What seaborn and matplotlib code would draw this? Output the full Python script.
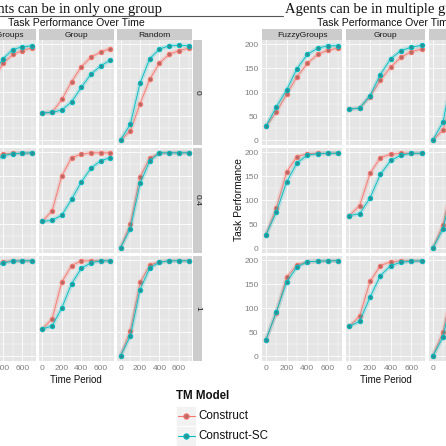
import matplotlib
matplotlib.use('Agg')
import pandas as pd
import matplotlib.pyplot as plt
import seaborn as sns
from matplotlib.patches import Rectangle

# ---- data ----
times = [0, 100, 200, 300, 400, 500, 600, 700]
structures = ['FuzzyGroups', 'Group', 'Random']
rates = ['0', '0.4', '1']
models = ['Construct', 'Construct-SC']
colors = ['#F8766D', '#00BFC4']
dark_colors = ['#B86A66', '#2F8F93']

# left chart: agents can be in only one group (rows: FuzzyGroups, Group, Random)
one_construct_r0 = [[28, 55, 90, 125, 160, 179, 187, 193],
                    [57, 58, 85, 122, 153, 173, 184, 191],
                    [0, 19, 76, 127, 161, 179, 187, 192]]
one_sc_r0 = [[28, 65, 100, 140, 170, 189, 195, 197],
             [57, 58, 63, 80, 110, 138, 155, 167],
             [1, 33, 119, 170, 190, 197, 198, 197]]
one_construct_r04 = [[28, 80, 150, 185, 196, 198, 198, 199],
                     [56, 78, 151, 189, 196, 199, 199, 199],
                     [1, 50, 149, 188, 198, 199, 199, 199]]
one_sc_r04 = [[28, 75, 140, 180, 193, 197, 198, 199],
              [56, 58, 69, 102, 138, 167, 182, 189],
              [1, 41, 135, 182, 199, 199, 199, 199]]
one_construct_r1 = [[30, 85, 155, 188, 197, 199, 199, 199],
                    [57, 78, 155, 189, 199, 199, 199, 199],
                    [1, 53, 154, 190, 197, 199, 199, 199]]
one_sc_r1 = [[30, 80, 150, 185, 195, 198, 199, 199],
             [57, 63, 101, 151, 183, 195, 199, 199],
             [1, 42, 139, 184, 196, 199, 199, 199]]

# right chart: agents can be in multiple groups
multi_construct_r0 = [[29, 58, 96, 132, 160, 179, 188, 192],
                      [65, 67, 91, 125, 153, 173, 185, 190],
                      [0, 21, 95, 150, 180, 192, 196, 198]]
multi_sc_r0 = [[29, 69, 105, 149, 179, 192, 197, 197],
               [65, 67, 93, 137, 170, 187, 194, 198],
               [0, 38, 150, 185, 196, 198, 199, 199]]
multi_construct_r04 = [[28, 84, 159, 191, 197, 198, 198, 199],
                       [68, 89, 156, 189, 196, 198, 198, 198],
                       [0, 49, 150, 190, 198, 199, 199, 199]]
multi_sc_r04 = [[28, 75, 138, 178, 194, 197, 198, 198],
                [68, 72, 105, 154, 183, 194, 198, 198],
                [0, 40, 135, 185, 198, 199, 199, 199]]
multi_construct_r1 = [[34, 91, 165, 190, 197, 198, 199, 199],
                      [62, 84, 156, 189, 197, 199, 199, 199],
                      [0, 51, 155, 190, 198, 199, 199, 199]]
multi_sc_r1 = [[34, 92, 155, 186, 197, 198, 199, 199],
               [62, 73, 123, 168, 189, 196, 198, 199],
               [0, 40, 140, 185, 197, 199, 199, 199]]


def to_frame(construct_rows, sc_rows):
    # long table: rate, structure, model, time, perf
    recs = []
    for rate, c_rows, s_rows in zip(rates, construct_rows, sc_rows):
        for k, st in enumerate(structures):
            for model, rows in zip(models, [c_rows, s_rows]):
                for t, v in zip(times, rows[k]):
                    recs.append((rate, st, model, t, v))
    return pd.DataFrame(recs, columns=['rate', 'structure', 'model', 'time', 'perf'])


one_df = to_frame([one_construct_r0, one_construct_r04, one_construct_r1],
                  [one_sc_r0, one_sc_r04, one_sc_r1])
multi_df = to_frame([multi_construct_r0, multi_construct_r04, multi_construct_r1],
                    [multi_sc_r0, multi_sc_r04, multi_sc_r1])

# ---- style ----
sns.set_style('darkgrid', {'axes.facecolor': '#E5E5E5', 'grid.color': 'white'})
plt.rcParams['font.family'] = ['Liberation Sans', 'DejaVu Sans']

W = H = 446
fig = plt.figure(figsize=(4.46, 4.46), dpi=100)


def rect(x, y, w, h):
    return [x / W, 1 - (y + h) / H, w / W, h / H]


row_y = [40, 148, 256]
row_h = 105
tick_grey = '#7F7F7F'


def draw_chart(df, col_x, col_w, y_labels):
    for i, rate in enumerate(rates):
        for j, st in enumerate(structures):
            ax = fig.add_axes(rect(col_x[j], row_y[i], col_w, row_h))
            sub = df[(df['rate'] == rate) & (df['structure'] == st)]
            for model, c, dc in zip(models, colors, dark_colors):
                d = sub[sub['model'] == model]
                sns.lineplot(data=d, x='time', y='perf', color=c, linewidth=3.0,
                             alpha=0.2, errorbar=None, ax=ax)
                sns.lineplot(data=d, x='time', y='perf', color=c, linewidth=0.6,
                             marker='o', markersize=3.2, markerfacecolor=dc,
                             markeredgecolor=c, markeredgewidth=0.7,
                             errorbar=None, ax=ax)
            ax.set_xlim(-35, 735)
            ax.set_ylim(-10, 209)
            ax.set_xticks([0, 200, 400, 600])
            ax.set_xticks([100, 300, 500, 700], minor=True)
            ax.set_yticks([0, 50, 100, 150, 200])
            ax.set_yticks([25, 75, 125, 175], minor=True)
            ax.grid(which='major', color='white', linewidth=0.6)
            ax.grid(which='minor', color='white', linewidth=0.3)
            ax.set_xlabel('')
            ax.set_ylabel('')
            for s in ax.spines.values():
                s.set_visible(False)
            ax.tick_params(which='minor', length=0)
            ax.tick_params(axis='x', which='major', length=2.2 if i == 2 else 0,
                           width=0.5, color=tick_grey, labelsize=6.0,
                           labelcolor=tick_grey, pad=1,
                           labelbottom=(i == 2))
            show_y = y_labels and j == 0
            ax.tick_params(axis='y', which='major', length=2.2 if show_y else 0,
                           width=0.5, color=tick_grey, labelsize=6.0,
                           labelcolor=tick_grey, pad=0.6,
                           labelleft=show_y)
    # facet strips
    for j, st in enumerate(structures):
        sa = fig.add_axes(rect(col_x[j], 29, col_w, 11))
        sa.set_facecolor('#CCCCCC')
        sa.set_xticks([])
        sa.set_yticks([])
        for s in sa.spines.values():
            s.set_visible(False)
        sa.text(0.5, 0.45, st, ha='center', va='center', fontsize=6.1,
                color='#1A1A1A', transform=sa.transAxes)
    for i, rate in enumerate(rates):
        sa = fig.add_axes(rect(col_x[2] + col_w + 0.6, row_y[i], 9.7, row_h))
        sa.set_facecolor('#CCCCCC')
        sa.set_xticks([])
        sa.set_yticks([])
        for s in sa.spines.values():
            s.set_visible(False)
        sa.text(0.5, 0.5, rate, ha='center', va='center', fontsize=6.1,
                rotation=-90, color='#1A1A1A', transform=sa.transAxes)


# the left chart's y axis lies beyond the picture's left edge
draw_chart(one_df, [-39.2, 39.0, 117.2], 74.8, y_labels=False)
draw_chart(multi_df, [262.3, 345.7, 429.1], 79.7, y_labels=True)

# ---- overlay for titles, labels, legend (pixel coordinates) ----
ov = fig.add_axes([0, 0, 1, 1], facecolor='none')
ov.set_xlim(0, W)
ov.set_ylim(H, 0)
ov.axis('off')

ov.plot([0, 283], [15.7, 15.7], color='#555555', linewidth=0.8)
serif = ['Liberation Serif', 'DejaVu Serif']
ov.text(162, 12.5, 'Agents can be in only one group', ha='right', va='baseline',
        fontsize=10.5, family=serif, color='#111111')
ov.text(284.7, 12.5, 'Agents can be in multiple groups', ha='left', va='baseline',
        fontsize=10.5, family=serif, color='#111111')

ov.text(76.2, 22.5, 'Task Performance Over Time', ha='center', va='center',
        fontsize=7.6, color='#111111')
ov.text(384.9, 22.5, 'Task Performance Over Time', ha='center', va='center',
        fontsize=7.6, color='#111111')

ov.text(75.8, 380, 'Time Period', ha='center', va='center', fontsize=7.0,
        color='#111111')
ov.text(386, 380, 'Time Period', ha='center', va='center', fontsize=7.0,
        color='#111111')
ov.text(239, 200, 'Task Performance', ha='center', va='center', fontsize=7.4,
        rotation=90, color='#111111')

# legend
ov.text(176, 395.7, 'TM Model', ha='left', va='center', fontsize=8.3,
        fontweight='bold', color='#111111')
for k, (model, c, dc) in enumerate(zip(models, colors, dark_colors)):
    yc = 415.7 + 20 * k
    ov.add_patch(Rectangle((175.5, yc - 10), 20.5, 20, facecolor='#F2F2F2',
                           edgecolor='white', linewidth=0.6))
    ov.plot([177.5, 194.5], [yc, yc], color=c, linewidth=0.8)
    ov.plot([186], [yc], marker='o', markersize=3.8, markerfacecolor=dc,
            markeredgecolor=c, markeredgewidth=0.8)
    ov.text(198.5, yc, model, ha='left', va='center', fontsize=8.4,
            color='#111111')

fig.savefig('out.png', dpi=100)
